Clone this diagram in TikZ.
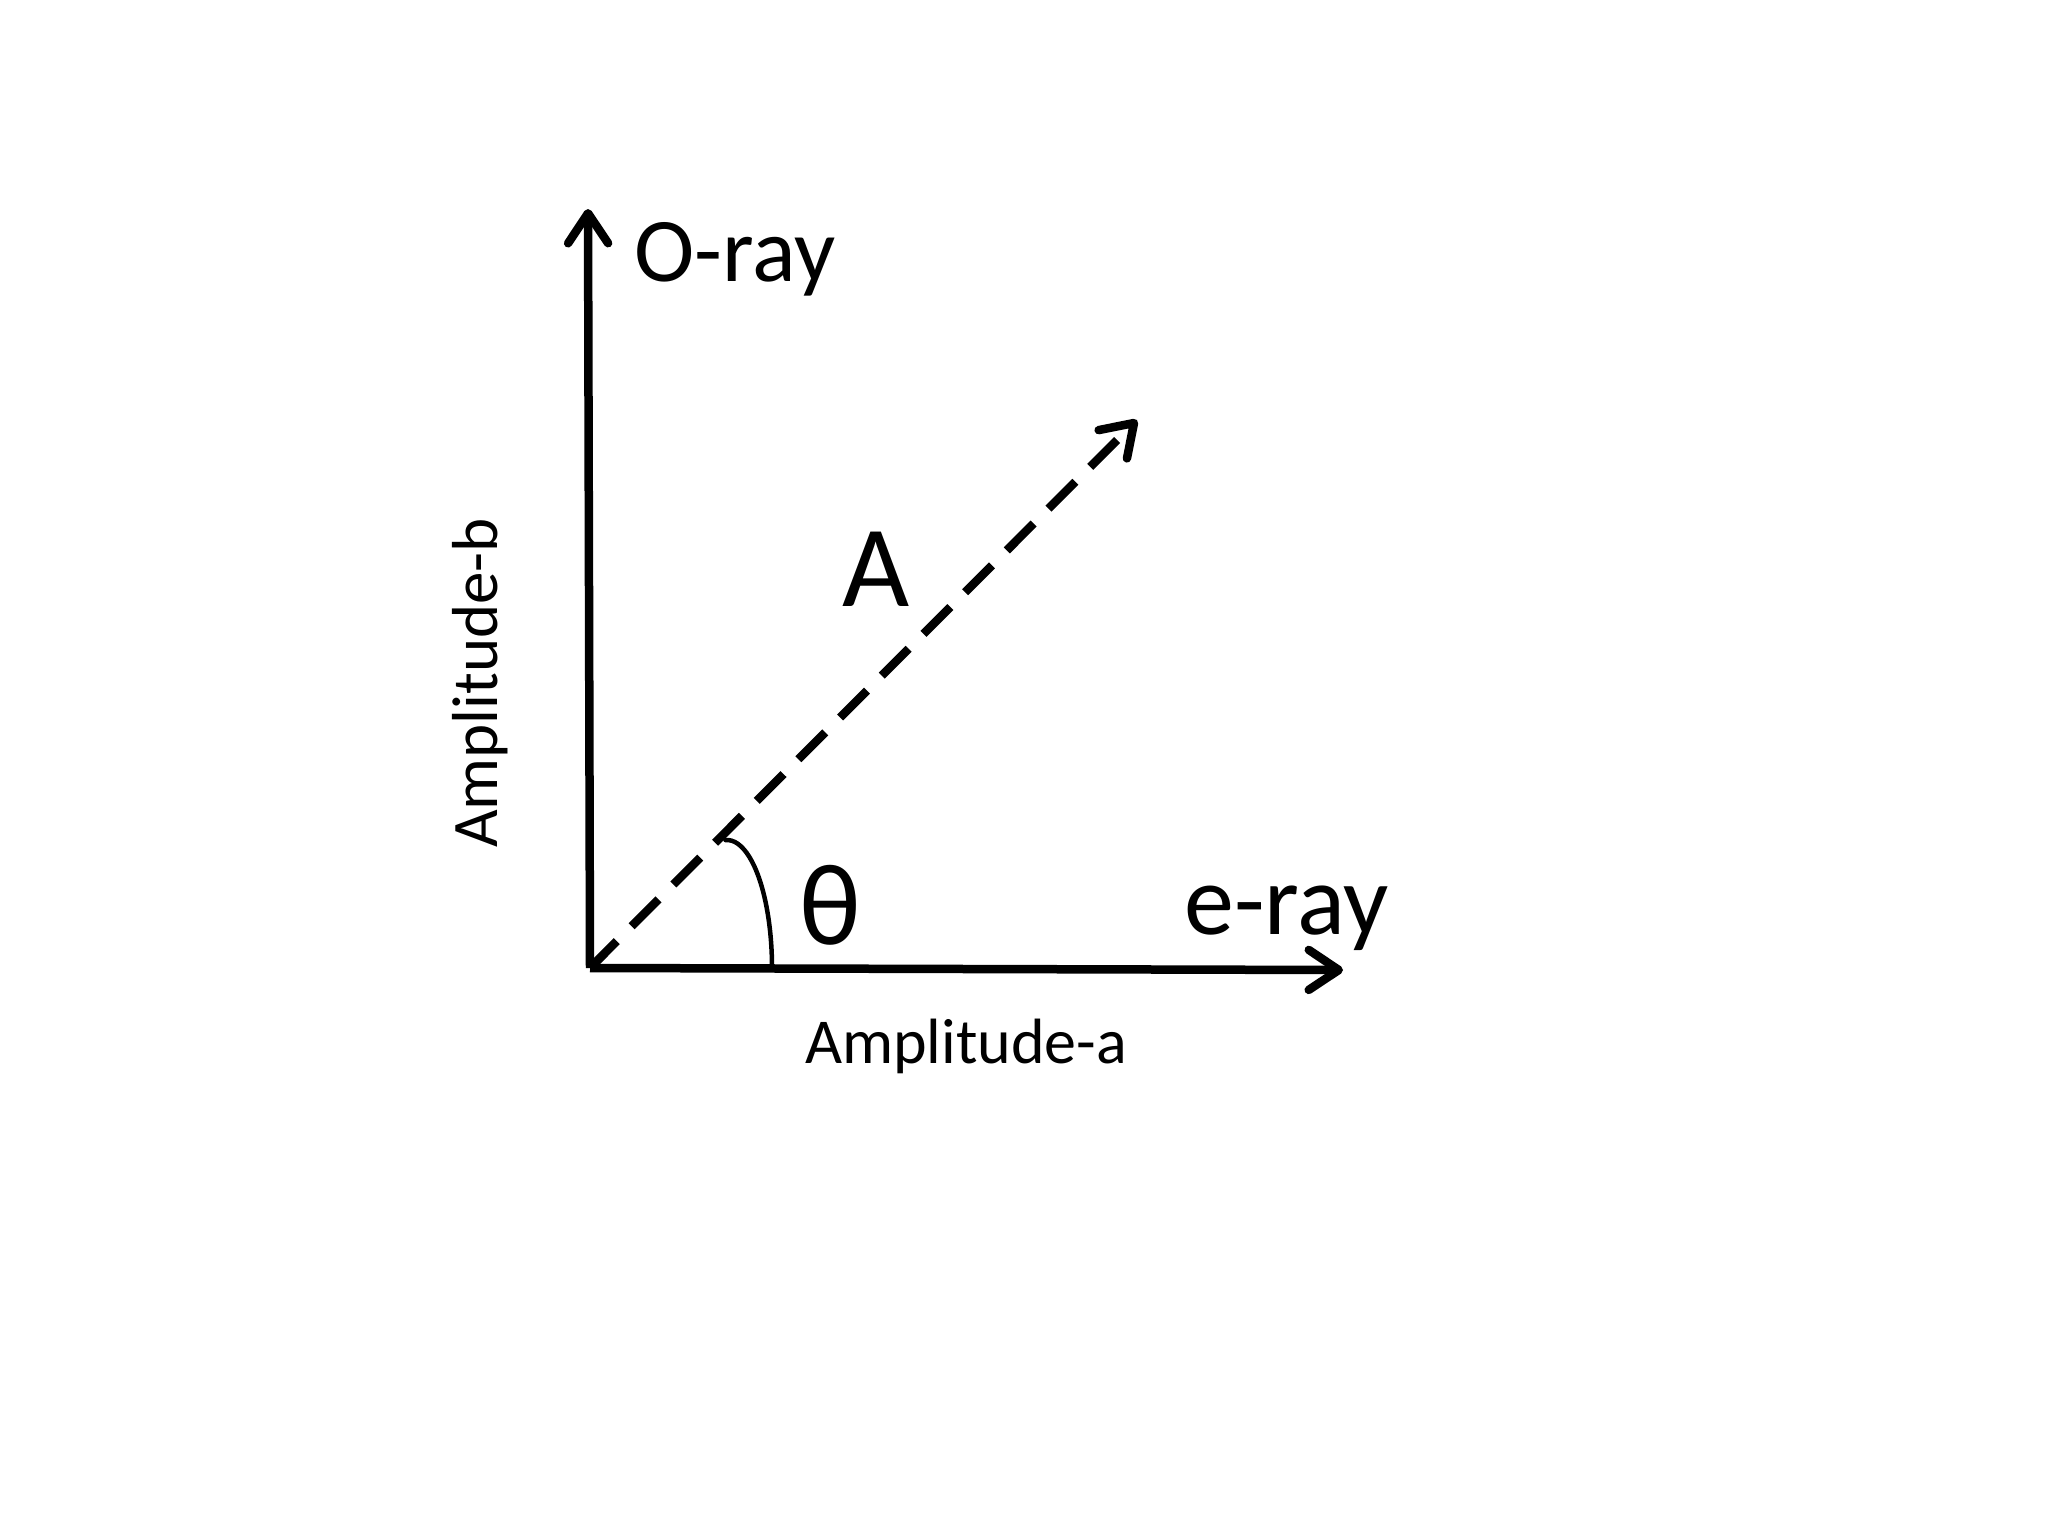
\documentclass[tikz,border=0pt]{standalone}
\usepackage{fontspec}
\setmainfont{Carlito}
\usetikzlibrary{arrows.meta}
\begin{document}
\begin{tikzpicture}[x=1pt,y=-1pt,
  axis/.style={line width=8.5pt,-{Straight Barb[length=30pt,width=40pt,round]}},
  dasharrow/.style={line width=8.5pt,dash pattern=on 38pt off 21pt,-{Straight Barb[length=30pt,width=40pt,round]}},
  lbl/.style={inner sep=0pt,text=black}]
\fill[white] (0,0) rectangle (2048,1536);
\useasboundingbox (0,0) rectangle (2048,1536);
\coordinate (o) at (590,968);
\coordinate (ytip) at (588,209);
\coordinate (xtip) at (1343,970);
\coordinate (atip) at (1137,420);
\coordinate (arcend) at (772,968);
\draw[axis] (o) -- (ytip);
\draw[axis] (o) -- (xtip);
\draw[dasharrow] (o) -- (atip);
\draw[line width=4.5pt,line cap=round] (arcend) arc[start angle=0,end angle=-92,x radius=45,y radius=128];
\node[lbl,anchor=base west,font=\fontsize{91}{100}\selectfont] (oray) at (634,281) {O-ray};
\node[lbl,anchor=base west,font=\fontsize{100}{110}\selectfont] (eray) at (1184,934) {e-ray};
\node[lbl,anchor=base,font=\fontsize{116}{130}\selectfont] (A) at (876,606) {A};
\node[lbl,anchor=base,font=\fontsize{116}{130}\selectfont] (theta) at (830,944) {θ};
\node[lbl,anchor=base,font=\fontsize{64}{72}\selectfont] (ampa) at (966,1063) {Amplitude-a};
\node[lbl,anchor=base,rotate=90,font=\fontsize{65}{72}\selectfont] (ampb) at (497,683) {Amplitude-b};
\end{tikzpicture}
\end{document}
